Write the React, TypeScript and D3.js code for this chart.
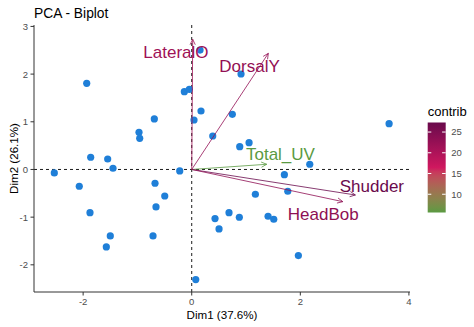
import React, { useEffect } from "react";
import * as d3 from "d3";

const indX = [0.153,-1.934,-0.136,-0.044,0.171,-0.689,0.042,0.748,-0.971,-0.958,0.387,-1.861,-1.548,0.908,3.635,0.884,1.056,-2.531,-1.45,-0.221,-2.071,-0.676,-0.497,-0.658,-1.874,0.429,0.687,0.877,0.503,-1.5,-0.713,-1.573,0.074,2.174,1.706,1.172,1.769,1.406,1.511,1.964];
const indY = [2.505,1.807,1.631,1.681,1.226,1.059,1.038,1.157,0.78,0.654,0.702,0.256,0.22,2.002,0.96,0.478,0.562,-0.073,0.025,-0.031,-0.352,-0.289,-0.556,-0.786,-0.906,-1.031,-0.906,-1.002,-1.247,-1.394,-1.394,-1.625,-2.31,0.109,-0.109,-0.52,-0.457,-0.981,-1.044,-1.807];

const varNames = ["LateralO", "DorsalY", "Total_UV", "Shudder", "HeadBob"];
const varX = [0.018, 1.411, 1.381, 3.014, 2.782];
const varY = [2.73, 2.436, 0.109, -0.535, -0.675];
const varContrib = [21.4, 22.8, 5.6, 27.3, 23.4];
const labelX = [-0.291, 1.065, 1.634, 3.318, 2.421];
const labelY = [2.338, 2.044, 0.199, -0.465, -1.059];

const xTicks = [-2, 0, 2, 4];
const yTicks = [-2, -1, 0, 1, 2, 3];
const legendTicks = [10, 15, 20, 25];
const gradientCols = ["#5A9A42", "#D0185F", "#6A0A4C"];

export default function App() {
  useEffect(() => {
    document.body.style.margin = "0";
  }, []);
  const W = 474, H = 327;
  const L = 34, R = 410, T = 25, B = 292;
  const x = d3.scaleLinear().domain([-2.905, 4.02]).range([L, R]);
  const y = d3.scaleLinear().domain([3.03, -2.57]).range([T, B]);
  const cext = d3.extent(varContrib) as [number, number];
  const cmid = (cext[0] + cext[1]) / 2;
  const col = d3.scaleLinear<string>().domain([cext[0], cmid, cext[1]]).range(gradientCols).interpolate(d3.interpolateLab);
  const barTop = 122.5, barBot = 212.5, barL = 427.7, barW = 18;
  const cy = d3.scaleLinear().domain(cext).range([barBot, barTop]);
  const font = "'Liberation Sans', Arial, sans-serif";
  const stops = d3.range(0, 1.0001, 0.05);
  return (
    <svg width={W} height={H} style={{ position: "absolute", left: 0, top: 0, fontFamily: font }}>
      <rect width={W} height={H} fill="#fff" />
      <defs>
        <linearGradient id="cbar" x1="0" y1="1" x2="0" y2="0">
          {stops.map((s, i) => (
            <stop key={i} offset={s} stopColor={col(cext[0] + s * (cext[1] - cext[0]))} />
          ))}
        </linearGradient>
      </defs>
      {/* reference lines */}
      <line x1={L} x2={R} y1={y(0)} y2={y(0)} stroke="#000" strokeWidth={0.9} strokeDasharray="3,3" />
      <line x1={x(0)} x2={x(0)} y1={T} y2={B} stroke="#000" strokeWidth={0.9} strokeDasharray="3,3" />
      {/* points */}
      {indX.map((v, i) => (
        <circle key={i} cx={x(v)} cy={y(indY[i])} r={3.6} fill="#1F7FD8" />
      ))}
      {/* arrows */}
      {varNames.map((n, i) => {
        const x0 = x(0), y0 = y(0), x1 = x(varX[i]), y1 = y(varY[i]);
        const ang = Math.atan2(y1 - y0, x1 - x0);
        const len = 6, a = Math.PI / 7;
        const p1 = [x1 - len * Math.cos(ang - a), y1 - len * Math.sin(ang - a)];
        const p2 = [x1 - len * Math.cos(ang + a), y1 - len * Math.sin(ang + a)];
        const c = col(varContrib[i]);
        return (
          <g key={n} stroke={c} strokeWidth={0.8} fill="none">
            <line x1={x0} y1={y0} x2={x1} y2={y1} />
            <polyline points={`${p1[0]},${p1[1]} ${x1},${y1} ${p2[0]},${p2[1]}`} />
          </g>
        );
      })}
      {varNames.map((n, i) => (
        <text key={n} x={x(labelX[i])} y={y(labelY[i])} textAnchor="middle" fontSize={17} fill={col(varContrib[i])}>
          {n}
        </text>
      ))}
      {/* axes */}
      <line x1={L} x2={L} y1={T} y2={B} stroke="#333" strokeWidth={1} />
      <line x1={L} x2={R} y1={B} y2={B} stroke="#333" strokeWidth={1} />
      {xTicks.map((t) => (
        <g key={t}>
          <line x1={x(t)} x2={x(t)} y1={B} y2={B + 3.5} stroke="#333" />
          <text x={x(t)} y={B + 13} textAnchor="middle" fontSize={9.5} fill="#4D4D4D">
            {t}
          </text>
        </g>
      ))}
      {yTicks.map((t) => (
        <g key={t}>
          <line x1={L - 3.5} x2={L} y1={y(t)} y2={y(t)} stroke="#333" />
          <text x={L - 6} y={y(t) + 3.4} textAnchor="end" fontSize={9.5} fill="#4D4D4D">
            {t}
          </text>
        </g>
      ))}
      <text x={(L + R) / 2} y={319} textAnchor="middle" fontSize={11.6} fill="#000">
        Dim1 (37.6%)
      </text>
      <text transform={`translate(18,${(T + B) / 2}) rotate(-90)`} textAnchor="middle" fontSize={11.6} fill="#000">
        Dim2 (26.1%)
      </text>
      <text x={34} y={17.5} fontSize={13.8} fill="#000">
        PCA - Biplot
      </text>
      {/* legend */}
      <text x={barL} y={116} fontSize={13} fill="#000">
        contrib
      </text>
      <rect x={barL} y={barTop} width={barW} height={barBot - barTop} fill="url(#cbar)" />
      {legendTicks.map((t) => (
        <g key={t}>
          <line x1={barL} x2={barL + 3.6} y1={cy(t)} y2={cy(t)} stroke="#fff" strokeWidth={1} />
          <line x1={barL + barW - 3.6} x2={barL + barW} y1={cy(t)} y2={cy(t)} stroke="#fff" strokeWidth={1} />
          <text x={barL + barW + 5.5} y={cy(t) + 3.4} fontSize={9.5} fill="#4D4D4D">
            {t}
          </text>
        </g>
      ))}
    </svg>
  );
}
